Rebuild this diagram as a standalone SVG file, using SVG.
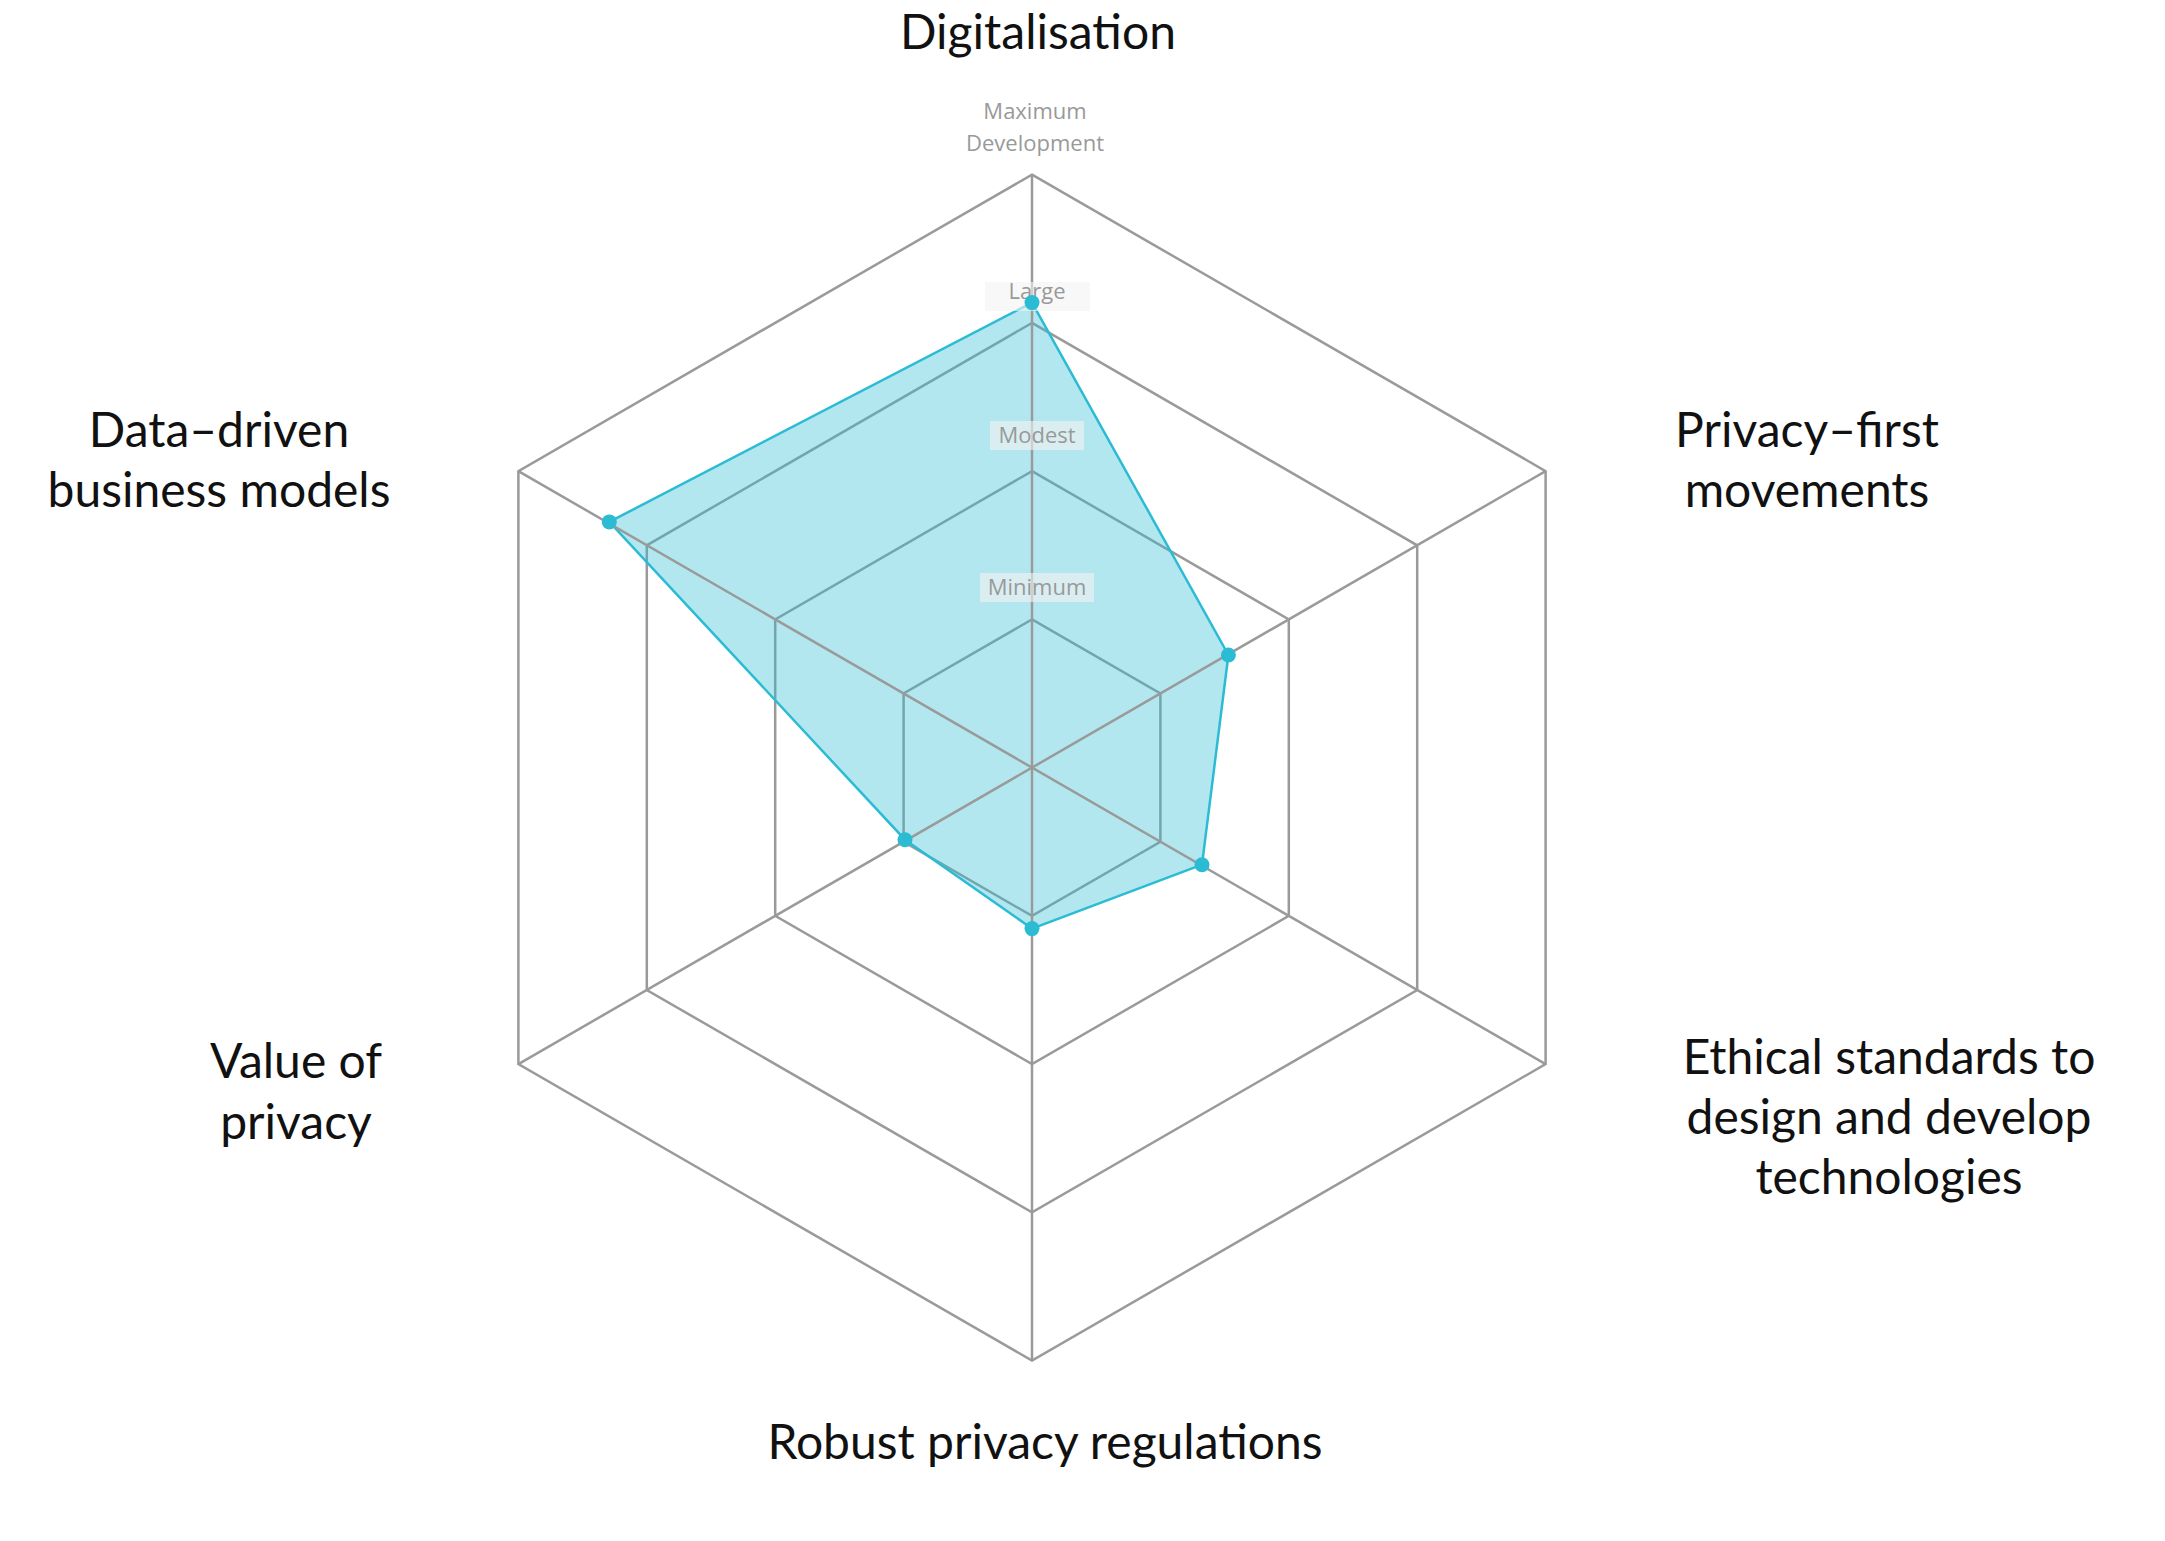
<svg xmlns="http://www.w3.org/2000/svg" width="2165" height="1541" viewBox="0 0 2165 1541">
<style>
.g{fill:none;stroke:#9a9a9a;stroke-width:2.5}
.lbl{font-family:Lato,"Open Sans",sans-serif;font-size:48px;fill:#111;text-anchor:middle}
.sc{font-family:"Open Sans","Noto Sans",sans-serif;font-size:22px;fill:#999;text-anchor:middle}
.bx{fill:#f4f4f4;fill-opacity:0.6}
.pt{fill:#2bbcd4}
</style>
<rect width="2165" height="1541" fill="#fff"/>
<g id="grid">
<polygon class="g" points="1032,174.6 1545.6,471.1 1545.6,1064.1 1032,1360.6 518.4,1064.1 518.4,471.1"/>
<polygon class="g" points="1032,322.9 1417.2,545.3 1417.2,990.0 1032,1212.4 646.8,990.0 646.8,545.3"/>
<polygon class="g" points="1032,471.1 1288.8,619.4 1288.8,915.9 1032,1064.1 775.2,915.9 775.2,619.4"/>
<polygon class="g" points="1032,619.4 1160.4,693.5 1160.4,841.8 1032,915.9 903.6,841.8 903.6,693.5"/>
</g>
<g id="data">
<polygon points="1032,302.6 1228.4,655 1202,864.7 1032,928.6 905,839.7 609.3,521.9" fill="#2bbcd4" fill-opacity="0.36" stroke="#2bbcd4" stroke-width="2.5"/>
</g>
<g id="connectors">
<line class="g" x1="1032" y1="174.6" x2="1032" y2="1360.6"/>
<line class="g" x1="1545.6" y1="471.1" x2="518.4" y2="1064.1"/>
<line class="g" x1="1545.6" y1="1064.1" x2="518.4" y2="471.1"/>
</g>
<g id="scale">
<rect class="bx" x="985" y="282" width="105" height="29"/>
<rect class="bx" x="990" y="421" width="94" height="29"/>
<rect class="bx" x="980" y="573" width="114" height="29"/>
<text class="sc" x="1035" y="119">Maximum</text>
<text class="sc" x="1035" y="151">Development</text>
<text class="sc" x="1037" y="299">Large</text>
<text class="sc" x="1037" y="443">Modest</text>
<text class="sc" x="1037" y="595">Minimum</text>
</g>
<g id="points">
<circle class="pt" cx="1032" cy="302.6" r="7.5"/>
<circle class="pt" cx="1228.4" cy="655" r="7.5"/>
<circle class="pt" cx="1202" cy="864.7" r="7.5"/>
<circle class="pt" cx="1032" cy="928.6" r="7.5"/>
<circle class="pt" cx="905" cy="839.7" r="7.5"/>
<circle class="pt" cx="609.3" cy="521.9" r="7.5"/>
</g>
<g id="labels">
<text class="lbl" x="1038" y="49">Digitalisation</text>
<text class="lbl" x="219" y="447">Data–driven</text>
<text class="lbl" x="219" y="507">business models</text>
<text class="lbl" x="1807" y="447">Privacy–first</text>
<text class="lbl" x="1807" y="507">movements</text>
<text class="lbl" x="296" y="1078">Value of</text>
<text class="lbl" x="296" y="1139">privacy</text>
<text class="lbl" x="1889" y="1074">Ethical standards to</text>
<text class="lbl" x="1889" y="1134">design and develop</text>
<text class="lbl" x="1889" y="1194">technologies</text>
<text class="lbl" x="1045" y="1459">Robust privacy regulations</text>
</g>
</svg>
